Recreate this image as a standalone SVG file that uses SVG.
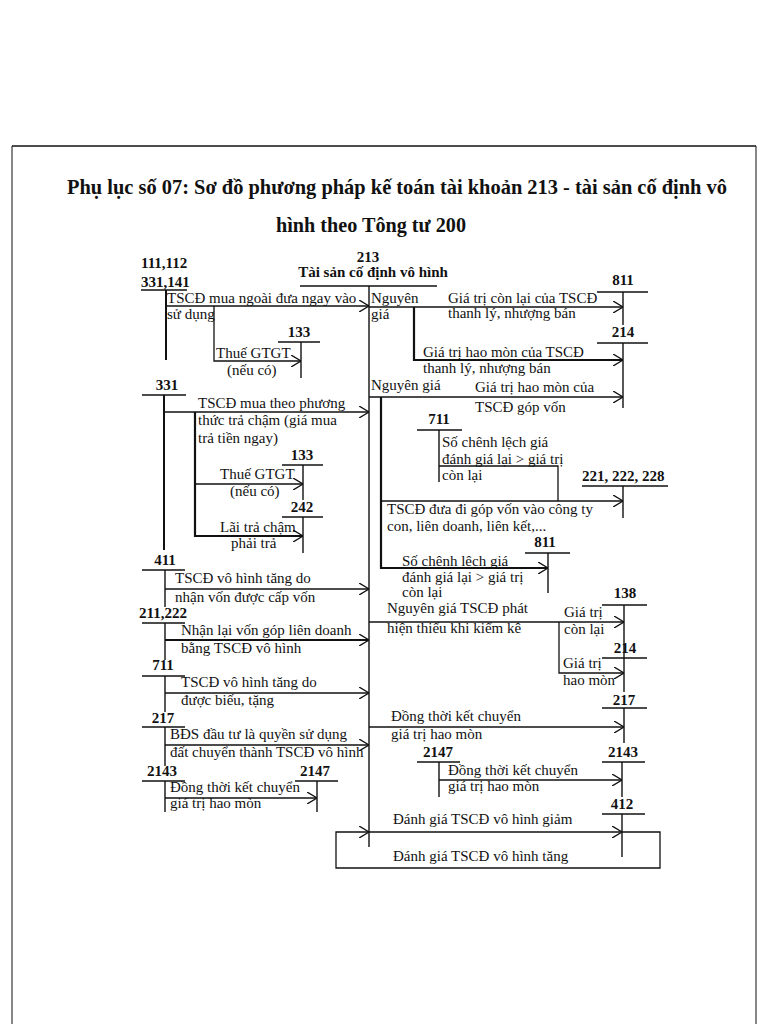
<svg xmlns="http://www.w3.org/2000/svg" width="768" height="1024" viewBox="0 0 768 1024">
<style>
text{font-family:"Liberation Serif","Times New Roman",serif;font-size:15px;fill:#111}
.b{font-weight:bold}
.c{text-anchor:middle}
.ttl{font-weight:bold;font-size:21px}
line,polyline,path{stroke:#111;fill:none}
.t line{stroke-width:1.4}
.t .v{stroke-width:2}
.cn line,.cn polyline{stroke-width:1.3}
.thk{stroke-width:2.2 !important}
</style>
<defs>
<marker id="ar" viewBox="0 0 10 12" refX="10" refY="6" markerWidth="10" markerHeight="12" markerUnits="userSpaceOnUse" orient="auto">
<path d="M0,0 L10,6 L0,12" stroke="#111" stroke-width="1.4" fill="none"/>
</marker>
</defs>
<rect width="768" height="1024" fill="#fff"/>
<g id="frame">
<line x1="12" y1="146" x2="756" y2="146" stroke="#333" stroke-width="1.3"/>
<line x1="12" y1="146" x2="12" y2="1024" stroke="#444" stroke-width="1"/>
<line x1="756" y1="146" x2="756" y2="1024" stroke="#f0f0f0" stroke-width="1"/>
</g>
<g id="title">
<text class="ttl" x="67" y="194" textLength="660" lengthAdjust="spacingAndGlyphs">Phụ lục số 07: Sơ đồ phương pháp kế toán tài khoản 213 - tài sản cố định vô</text>
<text class="ttl" x="276" y="232" textLength="190" lengthAdjust="spacingAndGlyphs">hình theo Tông tư 200</text>
</g>
<g id="n213" class="t">
<text class="b c" x="368" y="262">213</text>
<text class="b c" x="373" y="277">Tài sản cố định vô hình</text>
<line x1="300" y1="286" x2="437" y2="286"/>
<line x1="369" y1="286" x2="369" y2="847"/>
<text x="371" y="303">Nguyên</text>
<text x="371" y="319">giá</text>
<text x="371" y="390">Nguyên giá</text>
</g>
<g id="n111" class="t">
<text class="b" x="141" y="268">111,112</text>
<text class="b" x="141" y="287">331,141</text>
<line x1="141" y1="290" x2="187" y2="290"/>
<line class="v" x1="166" y1="290" x2="166" y2="360"/>
</g>
<g id="n133a" class="t">
<text class="b c" x="299" y="337">133</text>
<line x1="278" y1="342" x2="320" y2="342"/>
<line x1="301" y1="342" x2="301" y2="378"/>
</g>
<g id="n811a" class="t">
<text class="b c" x="623" y="285">811</text>
<line x1="597" y1="292" x2="648" y2="292"/>
<line x1="623" y1="292" x2="623" y2="325"/>
</g>
<g id="n214a" class="t">
<text class="b c" x="623" y="337">214</text>
<line x1="597" y1="343" x2="648" y2="343"/>
<line x1="623" y1="343" x2="623" y2="408"/>
</g>
<g id="n331" class="t">
<text class="b c" x="167" y="390">331</text>
<line x1="142" y1="395" x2="186" y2="395"/>
<line class="v" x1="164" y1="395" x2="164" y2="550"/>
</g>
<g id="n133b" class="t">
<text class="b c" x="302" y="460">133</text>
<line x1="282" y1="465" x2="323" y2="465"/>
<line x1="303" y1="465" x2="303" y2="500"/>
</g>
<g id="n242" class="t">
<text class="b c" x="302" y="512">242</text>
<line x1="282" y1="517" x2="323" y2="517"/>
<line x1="303" y1="517" x2="303" y2="553"/>
</g>
<g id="n711r" class="t">
<text class="b c" x="439" y="424">711</text>
<line x1="417" y1="430" x2="462" y2="430"/>
<line x1="439" y1="430" x2="439" y2="482"/>
</g>
<g id="n221" class="t">
<text class="b" x="582" y="481">221, 222, 228</text>
<line x1="582" y1="486" x2="668" y2="486"/>
<line x1="623" y1="486" x2="623" y2="518"/>
</g>
<g id="n811b" class="t">
<text class="b c" x="545" y="547">811</text>
<line x1="525" y1="553" x2="570" y2="553"/>
<line x1="548" y1="553" x2="548" y2="593"/>
</g>
<g id="n411" class="t">
<text class="b c" x="165" y="565">411</text>
<line x1="142" y1="570" x2="185" y2="570"/>
<line x1="165" y1="570" x2="165" y2="607"/>
</g>
<g id="n211" class="t">
<text class="b c" x="163" y="618">211,222</text>
<line x1="142" y1="623" x2="185" y2="623"/>
<line x1="165" y1="623" x2="165" y2="660"/>
</g>
<g id="n711l" class="t">
<text class="b c" x="163" y="670">711</text>
<line x1="142" y1="676" x2="185" y2="676"/>
<line x1="165" y1="676" x2="165" y2="712"/>
</g>
<g id="n138" class="t">
<text class="b c" x="625" y="598">138</text>
<line x1="602" y1="605" x2="647" y2="605"/>
<line x1="624" y1="605" x2="624" y2="658"/>
</g>
<g id="n214b" class="t">
<text class="b c" x="625" y="653">214</text>
<line x1="602" y1="658" x2="647" y2="658"/>
<line x1="624" y1="658" x2="624" y2="692"/>
</g>
<g id="n217r" class="t">
<text class="b c" x="624" y="705">217</text>
<line x1="602" y1="708" x2="647" y2="708"/>
<line x1="624" y1="708" x2="624" y2="743"/>
</g>
<g id="n217l" class="t">
<text class="b c" x="163" y="723">217</text>
<line x1="142" y1="727" x2="185" y2="727"/>
<line x1="165" y1="727" x2="165" y2="766"/>
</g>
<g id="n2143l" class="t">
<text class="b c" x="162" y="776">2143</text>
<line x1="142" y1="781" x2="185" y2="781"/>
<line x1="165" y1="781" x2="165" y2="812"/>
</g>
<g id="n2147l" class="t">
<text class="b c" x="315" y="776">2147</text>
<line x1="295" y1="781" x2="338" y2="781"/>
<line x1="317" y1="781" x2="317" y2="812"/>
</g>
<g id="n2147r" class="t">
<text class="b c" x="438" y="757">2147</text>
<line x1="417" y1="762" x2="460" y2="762"/>
<line x1="439" y1="762" x2="439" y2="797"/>
</g>
<g id="n2143r" class="t">
<text class="b c" x="623" y="757">2143</text>
<line x1="602" y1="762" x2="645" y2="762"/>
<line x1="622" y1="762" x2="622" y2="797"/>
</g>
<g id="n412" class="t">
<text class="b c" x="622" y="809">412</text>
<line x1="602" y1="814" x2="645" y2="814"/>
<line x1="622" y1="814" x2="622" y2="857"/>
</g>
<g id="connectors" class="cn">
<line x1="166" y1="306" x2="369" y2="306" marker-end="url(#ar)"/>
<polyline points="214,306 214,361 301,361" marker-end="url(#ar)"/>
<line x1="369" y1="307" x2="623" y2="307" marker-end="url(#ar)"/>
<polyline class="thk" points="414,307 414,360 623,360" marker-end="url(#ar)"/>
<line x1="164" y1="412" x2="369" y2="412" marker-end="url(#ar)"/>
<line x1="195" y1="484" x2="303" y2="484" marker-end="url(#ar)"/>
<polyline class="thk" points="195,412 195,536 303,536" marker-end="url(#ar)"/>
<line x1="369" y1="397" x2="623" y2="397" marker-end="url(#ar)"/>
<polyline class="thk" points="381,397 381,568 548,568" marker-end="url(#ar)"/>
<line x1="381" y1="501" x2="623" y2="501" marker-end="url(#ar)"/>
<polyline points="439,466 558,466 558,501"/>
<line x1="165" y1="589" x2="369" y2="589" marker-end="url(#ar)"/>
<line class="thk" x1="165" y1="640" x2="369" y2="640" marker-end="url(#ar)"/>
<line x1="165" y1="693" x2="369" y2="693" marker-end="url(#ar)"/>
<line x1="165" y1="745" x2="369" y2="745" marker-end="url(#ar)"/>
<line x1="165" y1="798" x2="317" y2="798" marker-end="url(#ar)"/>
<line x1="369" y1="622" x2="624" y2="622" marker-end="url(#ar)"/>
<polyline points="559,622 559,673 624,673" marker-end="url(#ar)"/>
<line x1="369" y1="727" x2="624" y2="727" marker-end="url(#ar)"/>
<line x1="439" y1="780" x2="622" y2="780" marker-end="url(#ar)"/>
<line x1="369" y1="832" x2="622" y2="832" marker-end="url(#ar)"/>
<polyline points="622,832 660,832 660,868 336,868 336,832 369,832" marker-end="url(#ar)"/>
</g>
<g id="labels">
<text x="167" y="303">TSCĐ mua ngoài đưa ngay vào</text>
<text x="167" y="319">sử dụng</text>
<text x="216" y="358">Thuế GTGT</text>
<text x="227" y="375">(nếu có)</text>
<text x="448" y="303">Giá trị còn lại của TSCĐ</text>
<text x="448" y="318">thanh lý, nhượng bán</text>
<text x="423" y="357">Giá trị hao mòn của TSCĐ</text>
<text x="423" y="373">thanh lý, nhượng bán</text>
<text x="198" y="408">TSCĐ mua theo phương</text>
<text x="198" y="425">thức trả chậm (giá mua</text>
<text x="198" y="443">trả tiền ngay)</text>
<text x="220" y="479">Thuế GTGT</text>
<text x="230" y="496">(nếu có)</text>
<text x="220" y="532">Lãi trả chậm</text>
<text x="231" y="548">phải trả</text>
<text x="475" y="392">Giá trị hao mòn của</text>
<text x="475" y="412">TSCĐ góp vốn</text>
<text x="442" y="447">Số chênh lệch giá</text>
<text x="442" y="464">đánh giá lại &gt; giá trị</text>
<text x="442" y="480">còn lại</text>
<text x="387" y="514">TSCĐ đưa đi góp vốn vào công ty</text>
<text x="387" y="531">con, liên doanh, liên kết,...</text>
<text x="402" y="566">Số chênh lệch giá</text>
<text x="402" y="582">đánh giá lại &gt; giá trị</text>
<text x="402" y="597">còn lại</text>
<text x="175" y="583">TSCĐ vô hình tăng do</text>
<text x="175" y="602">nhận vốn được cấp vốn</text>
<text x="181" y="635">Nhận lại vốn góp liên doanh</text>
<text x="181" y="653">bằng TSCĐ vô hình</text>
<text x="181" y="687">TSCĐ vô hình tăng do</text>
<text x="181" y="705">được biếu, tặng</text>
<text x="170" y="739">BĐS đầu tư là quyền sử dụng</text>
<text x="170" y="757">đất chuyển thành TSCĐ vô hình</text>
<text x="170" y="792">Đồng thời kết chuyển</text>
<text x="170" y="808">giá trị hao mòn</text>
<text x="387" y="613">Nguyên giá TSCĐ phát</text>
<text x="387" y="633">hiện thiếu khi kiểm kê</text>
<text x="564" y="617">Giá trị</text>
<text x="564" y="634">còn lại</text>
<text x="563" y="668">Giá trị</text>
<text x="563" y="685">hao mòn</text>
<text x="391" y="721">Đồng thời kết chuyển</text>
<text x="391" y="739">giá trị hao mòn</text>
<text x="448" y="775">Đồng thời kết chuyển</text>
<text x="448" y="791">giá trị hao mòn</text>
<text x="393" y="824">Đánh giá TSCĐ vô hình giảm</text>
<text x="393" y="861">Đánh giá TSCĐ vô hình tăng</text>
</g>
</svg>
